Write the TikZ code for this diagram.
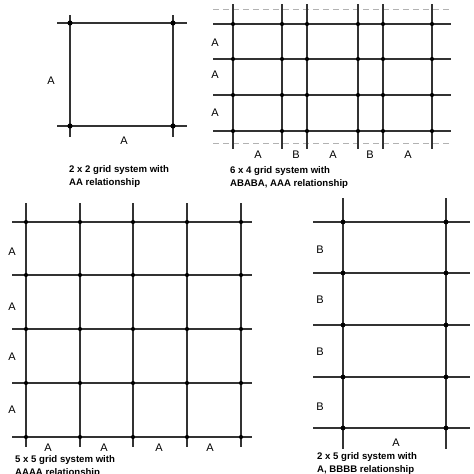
\documentclass[tikz,border=0pt]{standalone}
\usepackage{fontspec}
\setmainfont{Liberation Sans}

\begin{document}
\begin{tikzpicture}[x=1pt, y=-1pt,
    gridline/.style={draw=black!80, line width=1.3pt},
    guideline/.style={draw=black!30, line width=1pt, dash pattern=on 6pt off 4pt},
    modlabel/.style={font=\fontsize{11}{11}\selectfont, inner sep=0pt},
    caption/.style={font=\bfseries\fontsize{9.6}{12.5}\selectfont, align=left, anchor=base west, inner sep=0pt}]
    \useasboundingbox (0,0) rectangle (474,474);

    % 2 x 2 grid
    \foreach \x in {70,173} \draw[gridline] (\x,15) -- (\x,137);
    \foreach \y in {23,126} \draw[gridline] (57,\y) -- (187,\y);
    \foreach \x in {70,173} \foreach \y in {23,126} \fill (\x,\y) circle (2.6);
    \node[modlabel] (twoA1) at (51,81) {A};
    \node[modlabel] (twoA2) at (124,141) {A};
    \node[caption] (twocap) at (69,185) {2 x 2 grid system with\\AA relationship};

    % 6 x 4 grid
    \foreach \y in {9,143} \draw[guideline] (213,\y) -- (452,\y);
    \foreach \x in {233,282,307,358,383,432} \draw[gridline] (\x,4) -- (\x,149);
    \foreach \y in {24,59,95,131} \draw[gridline] (213,\y) -- (451,\y);
    \foreach \x in {233,282,307,358,383,432} \foreach \y in {24,59,95,131} \fill (\x,\y) circle (2.1);
    \foreach \y [count=\i] in {43,75,113} \node[modlabel] (sixrow\i) at (215,\y) {A};
    \foreach \x/\t [count=\i] in {258/A,296/B,333/A,370/B,408/A} \node[modlabel] (sixcol\i) at (\x,155) {\t};
    \node[caption] (sixcap) at (230,186) {6 x 4 grid system with\\ABABA, AAA relationship};

    % 5 x 5 grid
    \foreach \x in {26,80,133,187,241} \draw[gridline] (\x,203) -- (\x,447);
    \foreach \y in {222,275,329,383,437} \draw[gridline] (12,\y) -- (252,\y);
    \foreach \x in {26,80,133,187,241} \foreach \y in {222,275,329,383,437} \fill (\x,\y) circle (2.1);
    \foreach \y [count=\i] in {252,307,357,410} \node[modlabel] (fiverow\i) at (12,\y) {A};
    \foreach \x [count=\i] in {48,104,159,210} \node[modlabel] (fivecol\i) at (\x,448) {A};
    \node[caption] (fivecap) at (15,475) {5 x 5 grid system with\\AAAA relationship};

    % 2 x 5 grid
    \foreach \x in {343,446} \draw[gridline] (\x,198) -- (\x,449);
    \foreach \y in {222,273,325,377,428} \draw[gridline] (313,\y) -- (470,\y);
    \foreach \x in {343,446} \foreach \y in {222,273,325,377,428} \fill (\x,\y) circle (2.4);
    \foreach \y [count=\i] in {250,300,352,407} \node[modlabel] (tworow\i) at (320,\y) {B};
    \node[modlabel] (twocol) at (396,443) {A};
    \node[caption] (tfcap) at (317,472) {2 x 5 grid system with\\A, BBBB relationship};
\end{tikzpicture}
\end{document}
